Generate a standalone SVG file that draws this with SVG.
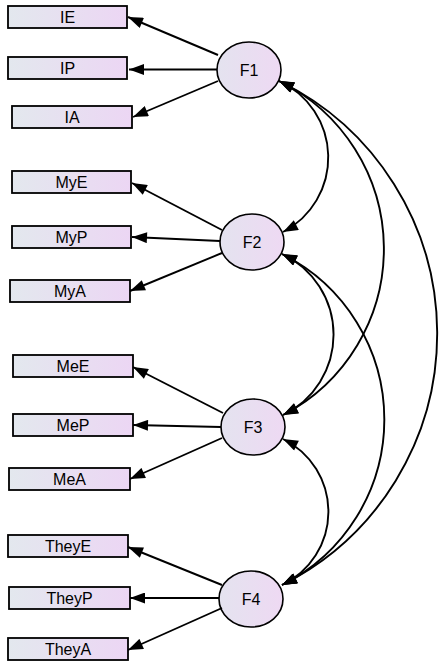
<svg xmlns="http://www.w3.org/2000/svg" width="447" height="665" viewBox="0 0 447 665">
<style>
.box{fill:url(#gb);stroke:#000;stroke-width:1.8}
.lat{fill:url(#ge);stroke:#000;stroke-width:1.6}
.t{font-family:"Liberation Sans",Arial,sans-serif;font-size:16px;fill:#000;text-anchor:middle;dominant-baseline:central}
.c{fill:none;stroke:#000;stroke-width:1.9}
.l{marker-end:url(#ah)}
.d{marker-start:url(#ah);marker-end:url(#ah)}
</style>
<defs>
<linearGradient id="gb" x1="0" y1="0" x2="1" y2="0">
<stop offset="0" stop-color="#e3e8ee"/>
<stop offset="1" stop-color="#ecd6f4"/>
</linearGradient>
<linearGradient id="ge" x1="0" y1="0" x2="1" y2="0">
<stop offset="0" stop-color="#e4e3ef"/>
<stop offset="1" stop-color="#eed9f3"/>
</linearGradient>
<marker id="ah" markerUnits="userSpaceOnUse" markerWidth="16" markerHeight="11" viewBox="0 0 15 11" refX="15" refY="5.5" orient="auto-start-reverse">
<path d="M0,0 L15,5.5 L0,11 z" fill="#000"/>
</marker>
</defs>
<g id="IE"><rect class="box" x="8" y="6" width="119" height="22"/><text class="t" x="67.5" y="17.5">IE</text></g>
<g id="IP"><rect class="box" x="8" y="57" width="119" height="22"/><text class="t" x="67.5" y="68.5">IP</text></g>
<g id="IA"><rect class="box" x="12" y="106" width="120" height="22"/><text class="t" x="72" y="117.5">IA</text></g>
<g id="MyE"><rect class="box" x="12" y="171" width="119" height="22"/><text class="t" x="71.5" y="182.5">MyE</text></g>
<g id="MyP"><rect class="box" x="12" y="226" width="119" height="22"/><text class="t" x="71.5" y="237.5">MyP</text></g>
<g id="MyA"><rect class="box" x="10" y="280" width="120" height="22"/><text class="t" x="70" y="291.5">MyA</text></g>
<g id="MeE"><rect class="box" x="13" y="355" width="120" height="22"/><text class="t" x="73" y="366.5">MeE</text></g>
<g id="MeP"><rect class="box" x="13" y="414" width="120" height="22"/><text class="t" x="73" y="425.5">MeP</text></g>
<g id="MeA"><rect class="box" x="9" y="468" width="121" height="22"/><text class="t" x="69.5" y="479.5">MeA</text></g>
<g id="TheyE"><rect class="box" x="8" y="535" width="120" height="22"/><text class="t" x="68" y="546.5">TheyE</text></g>
<g id="TheyP"><rect class="box" x="9" y="587" width="121" height="22"/><text class="t" x="69.5" y="598.5">TheyP</text></g>
<g id="TheyA"><rect class="box" x="8" y="638" width="120" height="22"/><text class="t" x="68" y="649.5">TheyA</text></g>
<g id="F1"><ellipse class="lat" cx="249" cy="70" rx="32" ry="28"/><text class="t" x="249" y="70.5">F1</text></g>
<g id="F2"><ellipse class="lat" cx="252" cy="242" rx="32" ry="28"/><text class="t" x="252" y="242.5">F2</text></g>
<g id="F3"><ellipse class="lat" cx="253" cy="427" rx="32" ry="28"/><text class="t" x="253" y="427.5">F3</text></g>
<g id="F4"><ellipse class="lat" cx="251" cy="599" rx="32" ry="28"/><text class="t" x="251" y="599.5">F4</text></g>
<g id="connectors">
<path class="c l" d="M218,55 L128,17"/>
<path class="c l" d="M217,69.5 L129,69.5"/>
<path class="c l" d="M218,81 L133,117"/>
<path class="c l" d="M222,230 L132,183"/>
<path class="c l" d="M220,241 L132,237"/>
<path class="c l" d="M222,253 L130,291"/>
<path class="c l" d="M223,413 L133,367"/>
<path class="c l" d="M221,427 L133,425"/>
<path class="c l" d="M222,438 L130,479"/>
<path class="c l" d="M222,585 L128,547"/>
<path class="c l" d="M219,598 L130,598"/>
<path class="c l" d="M222,608 L128,650"/>
<path class="c d" d="M279,81 A84,84 0 0 1 283,232"/>
<path class="c d" d="M279,81 A187,187 0 0 1 283,415"/>
<path class="c d" d="M279,81 A281,281 0 0 1 282,585"/>
<path class="c d" d="M282,254 A89,89 0 0 1 283,415"/>
<path class="c d" d="M282,254 A185,185 0 0 1 282,585"/>
<path class="c d" d="M283,439 A81,81 0 0 1 282,585"/>
</g>
</svg>
